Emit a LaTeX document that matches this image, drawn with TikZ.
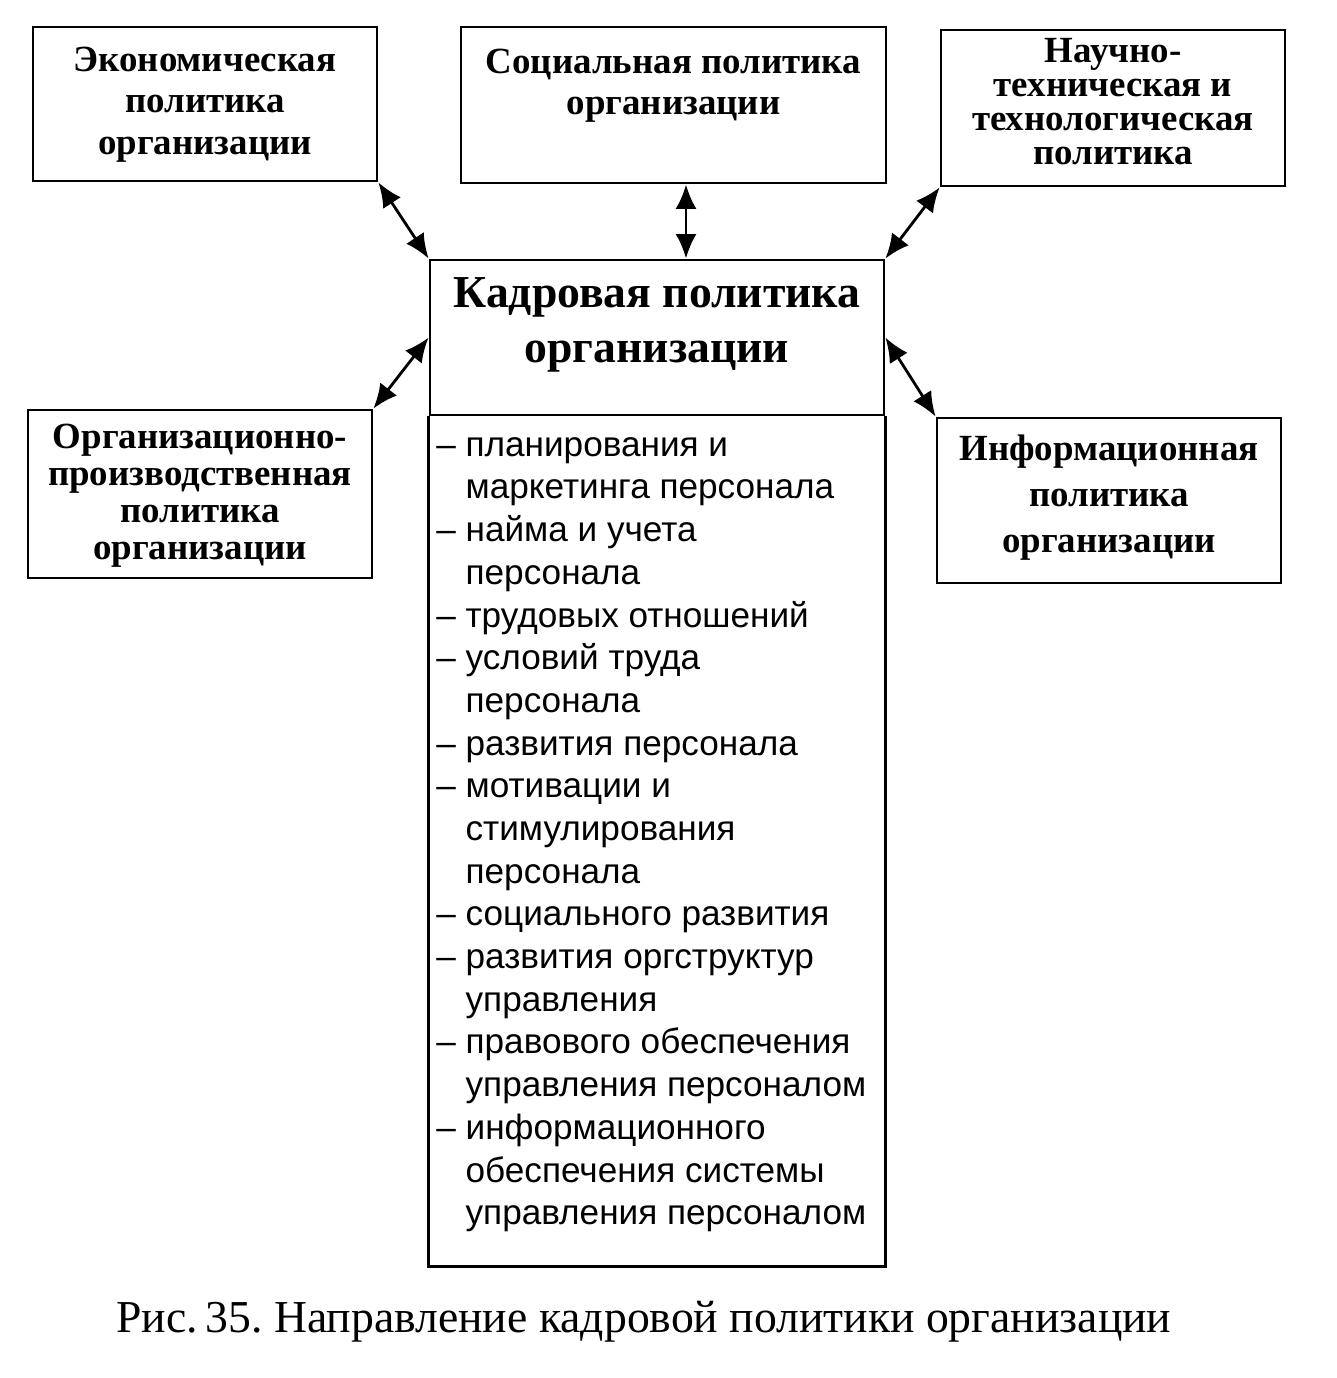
\documentclass[tikz,border=0pt]{standalone}
\usepackage{fontspec}
\setmainfont{Liberation Serif}
\newfontfamily\listfont{Liberation Sans}
\usetikzlibrary{arrows.meta}

\tikzset{
  policy/.style={draw, line width=1.6pt, inner sep=0pt},
  boxtext/.style={align=center, inner sep=0pt,
    font=\fontsize{21}{23.5}\selectfont\bfseries},
  link/.style={{Latex[length=14pt,width=12pt]}-{Latex[length=14pt,width=12pt]}, line width=1.6pt}
}

\begin{document}
\frenchspacing
\begin{tikzpicture}[x=0.02cm, y=-0.02cm]
\useasboundingbox (0,0) rectangle (1337,1378);

% surrounding policies
\node [policy, minimum width=6.88cm, minimum height=3.08cm] (econ) at (205,104) {};
\node [boxtext] at (205,104.5) {Экономическая\\политика\\организации};

\node [policy, minimum width=8.5cm, minimum height=3.12cm] (soc) at (673.5,105) {};
\node [boxtext] at (673.5,86) {Социальная политика\\организации};

\node [policy, minimum width=6.88cm, minimum height=3.12cm] (sci) at (1113,108) {};
\node [boxtext, font=\fontsize{21}{19.5}\selectfont\bfseries] at (1113,101.5)
  {Научно-\\техническая и\\технологическая\\политика};

\node [policy, minimum width=6.88cm, minimum height=3.36cm] (org) at (200,494) {};
\node [boxtext, font=\fontsize{21}{21}\selectfont\bfseries] at (200,495.5)
  {Организационно-\\производственная\\политика\\организации};

\node [policy, minimum width=6.88cm, minimum height=3.3cm] (info) at (1109,500.5) {};
\node [boxtext, font=\fontsize{21}{26}\selectfont\bfseries] at (1109,497.5)
  {Информационная\\политика\\организации};

% personnel policy
\node [policy, minimum width=9.08cm, minimum height=3.1cm] (kadr) at (657,337.5) {};
\node [boxtext, font=\fontsize{26}{31}\selectfont\bfseries] at (657,325)
  {Кадровая политика\\организации};
\draw [line width=1.6pt] (kadr.south west) -- ++(0,850) -| (kadr.south east);
\node [align=left, inner sep=0pt, anchor=north west, font=\listfont\fontsize{20}{24.3}\selectfont]
  (dirs) at (436,437) {%
  – планирования и\\\phantom{– }маркетинга персонала\\
  – найма и учета\\\phantom{– }персонала\\
  – трудовых отношений\\
  – условий труда\\\phantom{– }персонала\\
  – развития персонала\\
  – мотивации и\\\phantom{– }стимулирования\\\phantom{– }персонала\\
  – социального развития\\
  – развития оргструктур\\\phantom{– }управления\\
  – правового обеспечения\\\phantom{– }управления персоналом\\
  – информационного\\\phantom{– }обеспечения системы\\\phantom{– }управления персоналом};

% links
\draw [link] (econ.south east) -- (kadr.north west);
\draw [link] ([xshift=0.25cm]soc.south) -- ([xshift=0.25cm]soc.south |- kadr.north);
\draw [link] (sci.south west) -- (kadr.north east);
\draw [link] (org.north east) -- (kadr.west);
\draw [link] (info.north west) -- (kadr.east);

% caption
\node [font=\fontsize{26}{30}\selectfont] (cap) at (644,1322)
  {Рис.\,35. Направление кадровой политики организации};
\end{tikzpicture}
\end{document}
